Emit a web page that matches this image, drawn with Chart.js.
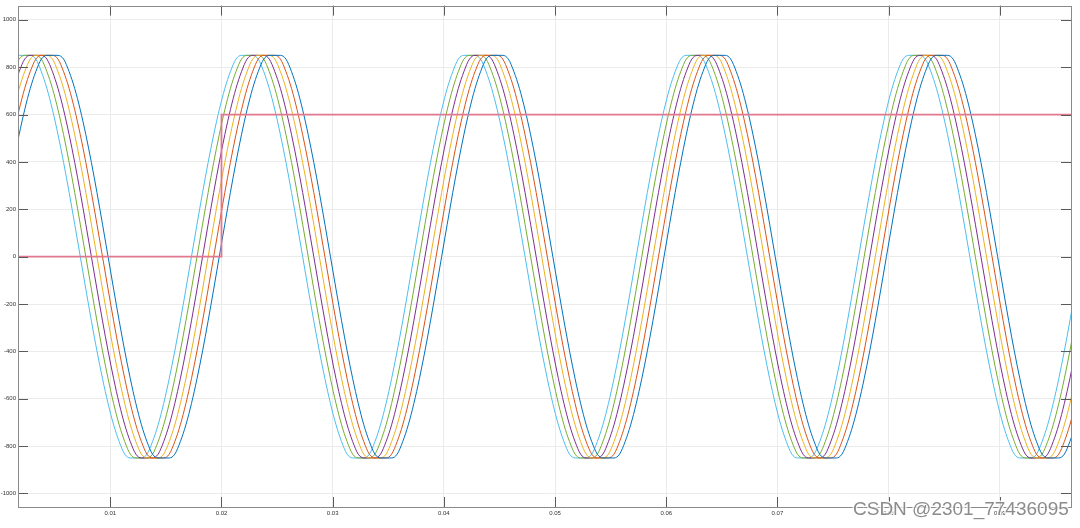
<!DOCTYPE html>
<html>
<head>
<meta charset="utf-8" />
<script src="https://cdn.jsdelivr.net/npm/chart.js@4/dist/chart.umd.min.js"></script>
<style>
	html, body { margin: 0; padding: 0; background: #fff; }
	#wrap { width: 1080px; height: 528px; }
</style>
</head>
<body>
<div id="wrap">
	<canvas id="myChart"></canvas>
</div>

<script>
// time axis (s), sampled every 0.5 ms
const time = [
	0.0013,0.0018,0.0023,0.0028,0.0033,0.0038,0.0043,0.0048,0.0053,0.0058,0.0063,0.0068,0.0073,0.0078,0.0083,0.0088,0.0093,0.0098,
	0.0103,0.0108,0.0113,0.0118,0.0123,0.0128,0.0133,0.0138,0.0143,0.0148,0.0153,0.0158,0.0163,0.0168,0.0173,0.0178,0.0183,0.0188,0.0193,0.0198,
	0.0203,0.0208,0.0213,0.0218,0.0223,0.0228,0.0233,0.0238,0.0243,0.0248,0.0253,0.0258,0.0263,0.0268,0.0273,0.0278,0.0283,0.0288,0.0293,0.0298,
	0.0303,0.0308,0.0313,0.0318,0.0323,0.0328,0.0333,0.0338,0.0343,0.0348,0.0353,0.0358,0.0363,0.0368,0.0373,0.0378,0.0383,0.0388,0.0393,0.0398,
	0.0403,0.0408,0.0413,0.0418,0.0423,0.0428,0.0433,0.0438,0.0443,0.0448,0.0453,0.0458,0.0463,0.0468,0.0473,0.0478,0.0483,0.0488,0.0493,0.0498,
	0.0503,0.0508,0.0513,0.0518,0.0523,0.0528,0.0533,0.0538,0.0543,0.0548,0.0553,0.0558,0.0563,0.0568,0.0573,0.0578,0.0583,0.0588,0.0593,0.0598,
	0.0603,0.0608,0.0613,0.0618,0.0623,0.0628,0.0633,0.0638,0.0643,0.0648,0.0653,0.0658,0.0663,0.0668,0.0673,0.0678,0.0683,0.0688,0.0693,0.0698,
	0.0703,0.0708,0.0713,0.0718,0.0723,0.0728,0.0733,0.0738,0.0743,0.0748,0.0753,0.0758,0.0763,0.0768,0.0773,0.0778,0.0783,0.0788,0.0793,0.0798,
	0.0803,0.0808,0.0813,0.0818,0.0823,0.0828,0.0833,0.0838,0.0843,0.0848,0.0853,0.0858,0.0863,0.0868,0.0873,0.0878,0.0883,0.0888,0.0893,0.0898,
	0.0903,0.0908,0.0913,0.0918,0.0923,0.0928,0.0933,0.0938,0.0943,0.0948,0.0953,0.0958,0.0963,0.0968
];

const wave1 = [
	398,515,620,710,781,834,850,850,850,834,781,710,620,515,398,271,137,0,-137,-271,-398,-515,-620,-710,-781,-834,-850,-850,-850,-834,-781,-710,-620,-515,-398,-271,-137,0,137,271,
	398,515,620,710,781,834,850,850,850,834,781,710,620,515,398,271,137,0,-137,-271,-398,-515,-620,-710,-781,-834,-850,-850,-850,-834,-781,-710,-620,-515,-398,-271,-137,0,137,271,
	398,515,620,710,781,834,850,850,850,834,781,710,620,515,398,271,137,0,-137,-271,-398,-515,-620,-710,-781,-834,-850,-850,-850,-834,-781,-710,-620,-515,-398,-271,-137,0,137,271,
	398,515,620,710,781,834,850,850,850,834,781,710,620,515,398,271,137,0,-137,-271,-398,-515,-620,-710,-781,-834,-850,-850,-850,-834,-781,-710,-620,-515,-398,-271,-137,0,137,271,
	398,515,620,710,781,834,850,850,850,834,781,710,620,515,398,271,137,0,-137,-271,-398,-515,-620,-710,-781,-834,-850,-850,-850,-834,-781,-710
];
const wave2 = [
	515,620,710,781,834,850,850,850,834,781,710,620,515,398,271,137,0,-137,-271,-398,-515,-620,-710,-781,-834,-850,-850,-850,-834,-781,-710,-620,-515,-398,-271,-137,0,137,271,398,
	515,620,710,781,834,850,850,850,834,781,710,620,515,398,271,137,0,-137,-271,-398,-515,-620,-710,-781,-834,-850,-850,-850,-834,-781,-710,-620,-515,-398,-271,-137,0,137,271,398,
	515,620,710,781,834,850,850,850,834,781,710,620,515,398,271,137,0,-137,-271,-398,-515,-620,-710,-781,-834,-850,-850,-850,-834,-781,-710,-620,-515,-398,-271,-137,0,137,271,398,
	515,620,710,781,834,850,850,850,834,781,710,620,515,398,271,137,0,-137,-271,-398,-515,-620,-710,-781,-834,-850,-850,-850,-834,-781,-710,-620,-515,-398,-271,-137,0,137,271,398,
	515,620,710,781,834,850,850,850,834,781,710,620,515,398,271,137,0,-137,-271,-398,-515,-620,-710,-781,-834,-850,-850,-850,-834,-781,-710,-620
];
const wave3 = [
	620,710,781,834,850,850,850,834,781,710,620,515,398,271,137,0,-137,-271,-398,-515,-620,-710,-781,-834,-850,-850,-850,-834,-781,-710,-620,-515,-398,-271,-137,0,137,271,398,515,
	620,710,781,834,850,850,850,834,781,710,620,515,398,271,137,0,-137,-271,-398,-515,-620,-710,-781,-834,-850,-850,-850,-834,-781,-710,-620,-515,-398,-271,-137,0,137,271,398,515,
	620,710,781,834,850,850,850,834,781,710,620,515,398,271,137,0,-137,-271,-398,-515,-620,-710,-781,-834,-850,-850,-850,-834,-781,-710,-620,-515,-398,-271,-137,0,137,271,398,515,
	620,710,781,834,850,850,850,834,781,710,620,515,398,271,137,0,-137,-271,-398,-515,-620,-710,-781,-834,-850,-850,-850,-834,-781,-710,-620,-515,-398,-271,-137,0,137,271,398,515,
	620,710,781,834,850,850,850,834,781,710,620,515,398,271,137,0,-137,-271,-398,-515,-620,-710,-781,-834,-850,-850,-850,-834,-781,-710,-620,-515
];
const wave4 = [
	710,781,834,850,850,850,834,781,710,620,515,398,271,137,0,-137,-271,-398,-515,-620,-710,-781,-834,-850,-850,-850,-834,-781,-710,-620,-515,-398,-271,-137,0,137,271,398,515,620,
	710,781,834,850,850,850,834,781,710,620,515,398,271,137,0,-137,-271,-398,-515,-620,-710,-781,-834,-850,-850,-850,-834,-781,-710,-620,-515,-398,-271,-137,0,137,271,398,515,620,
	710,781,834,850,850,850,834,781,710,620,515,398,271,137,0,-137,-271,-398,-515,-620,-710,-781,-834,-850,-850,-850,-834,-781,-710,-620,-515,-398,-271,-137,0,137,271,398,515,620,
	710,781,834,850,850,850,834,781,710,620,515,398,271,137,0,-137,-271,-398,-515,-620,-710,-781,-834,-850,-850,-850,-834,-781,-710,-620,-515,-398,-271,-137,0,137,271,398,515,620,
	710,781,834,850,850,850,834,781,710,620,515,398,271,137,0,-137,-271,-398,-515,-620,-710,-781,-834,-850,-850,-850,-834,-781,-710,-620,-515,-398
];
const wave5 = [
	781,834,850,850,850,834,781,710,620,515,398,271,137,0,-137,-271,-398,-515,-620,-710,-781,-834,-850,-850,-850,-834,-781,-710,-620,-515,-398,-271,-137,0,137,271,398,515,620,710,
	781,834,850,850,850,834,781,710,620,515,398,271,137,0,-137,-271,-398,-515,-620,-710,-781,-834,-850,-850,-850,-834,-781,-710,-620,-515,-398,-271,-137,0,137,271,398,515,620,710,
	781,834,850,850,850,834,781,710,620,515,398,271,137,0,-137,-271,-398,-515,-620,-710,-781,-834,-850,-850,-850,-834,-781,-710,-620,-515,-398,-271,-137,0,137,271,398,515,620,710,
	781,834,850,850,850,834,781,710,620,515,398,271,137,0,-137,-271,-398,-515,-620,-710,-781,-834,-850,-850,-850,-834,-781,-710,-620,-515,-398,-271,-137,0,137,271,398,515,620,710,
	781,834,850,850,850,834,781,710,620,515,398,271,137,0,-137,-271,-398,-515,-620,-710,-781,-834,-850,-850,-850,-834,-781,-710,-620,-515,-398,-271
];
const wave6 = [
	834,850,850,850,834,781,710,620,515,398,271,137,0,-137,-271,-398,-515,-620,-710,-781,-834,-850,-850,-850,-834,-781,-710,-620,-515,-398,-271,-137,0,137,271,398,515,620,710,781,
	834,850,850,850,834,781,710,620,515,398,271,137,0,-137,-271,-398,-515,-620,-710,-781,-834,-850,-850,-850,-834,-781,-710,-620,-515,-398,-271,-137,0,137,271,398,515,620,710,781,
	834,850,850,850,834,781,710,620,515,398,271,137,0,-137,-271,-398,-515,-620,-710,-781,-834,-850,-850,-850,-834,-781,-710,-620,-515,-398,-271,-137,0,137,271,398,515,620,710,781,
	834,850,850,850,834,781,710,620,515,398,271,137,0,-137,-271,-398,-515,-620,-710,-781,-834,-850,-850,-850,-834,-781,-710,-620,-515,-398,-271,-137,0,137,271,398,515,620,710,781,
	834,850,850,850,834,781,710,620,515,398,271,137,0,-137,-271,-398,-515,-620,-710,-781,-834,-850,-850,-850,-834,-781,-710,-620,-515,-398,-271,-137
];

// step reference signal
const stepTime = [0.0013, 0.02, 0.02, 0.0968];
const stepValue = [0, 0, 600, 600];

const xTicks = [0.01, 0.02, 0.03, 0.04, 0.05, 0.06, 0.07, 0.08, 0.09];
const yTicks = [-1000, -800, -600, -400, -200, 0, 200, 400, 600, 800, 1000];

const waves = [wave1, wave2, wave3, wave4, wave5, wave6];
const colors = ['#0072BD', '#D95319', '#EDB120', '#7E2F8E', '#77AC30', '#4DBEEE'];

const datasets = waves.map((w, k) => ({
	data: time.map((t, i) => ({x: t, y: w[i]})),
	borderColor: colors[k],
	borderWidth: 1,
	pointRadius: 0,
	cubicInterpolationMode: 'monotone',
	order: 2
}));
datasets.push({
	data: stepTime.map((t, i) => ({x: t, y: stepValue[i]})),
	borderColor: '#e07890',
	borderWidth: 1.8,
	pointRadius: 0,
	order: 1
});

// box + inward tick marks like a scope window
const boxPlugin = {
	id: 'box_ticks',
	afterDatasetsDraw: (chart) => {
		const {ctx, chartArea: a, scales} = chart;
		ctx.save();
		ctx.strokeStyle = '#5a5a5a';
		ctx.lineWidth = 1;
		ctx.beginPath();
		xTicks.forEach(v => {
			const x = Math.round(scales.x.getPixelForValue(v)) + 0.5;
			ctx.moveTo(x, a.bottom); ctx.lineTo(x, a.bottom - 10);
			ctx.moveTo(x, a.top); ctx.lineTo(x, a.top + 10);
		});
		yTicks.forEach(v => {
			const y = Math.round(scales.y.getPixelForValue(v)) + 0.5;
			ctx.moveTo(a.left, y); ctx.lineTo(a.left + 10, y);
			ctx.moveTo(a.right, y); ctx.lineTo(a.right - 10, y);
		});
		ctx.stroke();
		ctx.strokeStyle = '#8a8a8a';
		ctx.strokeRect(Math.round(a.left) + 0.5, Math.round(a.top) + 0.5, Math.round(a.right - a.left), Math.round(a.bottom - a.top));
		ctx.restore();
	},
	afterDraw: (chart) => {
		const {ctx} = chart;
		ctx.save();
		ctx.font = '19px "Liberation Sans", Arial, sans-serif';
		ctx.textBaseline = 'alphabetic';
		ctx.lineWidth = 3;
		ctx.strokeStyle = 'rgba(255,255,255,0.8)';
		ctx.strokeText('CSDN @2301_77436095', 853, 515);
		ctx.fillStyle = 'rgba(120,120,120,0.85)';
		ctx.fillText('CSDN @2301_77436095', 853, 515);
		ctx.restore();
	}
};

new Chart(document.getElementById('myChart'), {
	type: 'line',
	data: { datasets: datasets },
	plugins: [boxPlugin],
	options: {
		responsive: true,
		maintainAspectRatio: false,
		animation: false,
		events: [],
		layout: { padding: { top: 5, right: 9, left: 0, bottom: 0 } },
		plugins: {
			legend: { display: false },
			tooltip: { enabled: false }
		},
		scales: {
			x: {
				type: 'linear',
				min: 0.0017,
				max: 0.0964,
				afterBuildTicks: s => { s.ticks = xTicks.map(v => ({value: v})); },
				afterFit: s => { s.height = 21; },
				grid: { color: '#ebebeb', lineWidth: 1, drawTicks: false },
				border: { display: false },
				ticks: {
					padding: 3,
					color: '#333',
					font: { size: 6, family: '"Liberation Sans", Arial, sans-serif' },
					maxRotation: 0,
					autoSkip: false,
					callback: v => String(v)
				}
			},
			y: {
				min: -1057,
				max: 1060,
				afterBuildTicks: s => { s.ticks = yTicks.map(v => ({value: v})); },
				afterFit: s => { s.width = 18; },
				grid: { color: '#ebebeb', lineWidth: 1, drawTicks: false },
				border: { display: false },
				ticks: {
					padding: 2,
					color: '#333',
					font: { size: 6, family: '"Liberation Sans", Arial, sans-serif' },
					autoSkip: false,
					callback: v => String(v)
				}
			}
		}
	}
});
</script>
</body>
</html>
